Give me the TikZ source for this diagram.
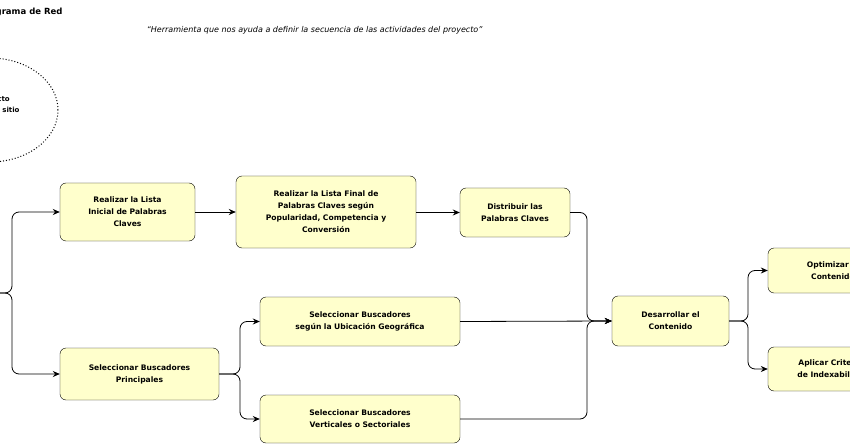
\documentclass[tikz,border=0pt]{standalone}
\usepackage{fontspec}
\setmainfont{DejaVu Sans}
\usetikzlibrary{arrows.meta,shapes.geometric}
\begin{document}
\begin{tikzpicture}[x=1pt,y=-1pt,
  box/.style={draw,fill={rgb,255:red,255;green,255;blue,204},rounded corners=6pt,align=center,font=\fontsize{7.6}{12}\selectfont\bfseries,inner sep=0pt},
  con/.style={-{Stealth[length=7pt,width=6pt]},rounded corners=7pt,line width=0.8pt}]
\useasboundingbox (0,0) rectangle (850,446);
\clip (0,0) rectangle (850,446);
\node[anchor=east,font=\fontsize{8.5}{11}\selectfont\bfseries] (t) at (66,12) {Diagrama de Red};
\node[anchor=east,font=\fontsize{8}{11}\selectfont\itshape] (st) at (486,30) {``Herramienta que nos ayuda a definir la secuencia de las actividades del proyecto''};
\node[draw,dotted,line width=1pt,ellipse,minimum width=136pt,minimum height=104pt,align=center,font=\fontsize{7}{11}\selectfont\bfseries] (p) at (-10,110) {``Proyecto\\SEO es un sitio\\web''};
\node[box,minimum width=135pt,minimum height=58pt,text width=125pt] (a) at (127.5,212) {Realizar la Lista\\Inicial de Palabras\\Claves};
\node[box,minimum width=180pt,minimum height=72pt,text width=172pt] (b) at (326,212) {Realizar la Lista Final de\\Palabras Claves según\\Popularidad, Competencia y\\Conversión};
\node[box,minimum width=110pt,minimum height=49pt,text width=104pt] (c) at (515,212.5) {Distribuir las\\Palabras Claves};
\node[box,minimum width=159pt,minimum height=52pt,text width=150pt] (d) at (139.5,374) {Seleccionar Buscadores\\Principales};
\node[box,minimum width=200pt,minimum height=49pt,text width=190pt] (e) at (360,321.5) {Seleccionar Buscadores\\según la Ubicación Geográfica};
\node[box,minimum width=200pt,minimum height=48pt,text width=190pt] (f) at (360,419) {Seleccionar Buscadores\\Verticales o Sectoriales};
\node[box,minimum width=117pt,minimum height=50pt,text width=110pt] (g) at (670.5,321) {Desarrollar el\\Contenido};
\node[box,minimum width=130pt,minimum height=45pt,text width=120pt] (h) at (833,270.5) {Optimizar el\\Contenido};
\node[box,minimum width=130pt,minimum height=44pt,text width=120pt] (i) at (833,369) {Aplicar Criterios\\de Indexabilidad};
\coordinate (s) at (-5,293);
\draw[con] (s) -- (12,293) |- (a.west);
\draw[con] (s) -- (12,293) |- (d.west);
\draw[con] (a) -- (b);
\draw[con] (b.east|-c) -- (c);
\draw[con] (c.east) -- (587,212.5) |- (g.west);
\draw[con] (e.east) -- (g.west);
\draw[con] (f.east) -- (587,419) |- (g.west);
\draw[con] (d.east) -- (240,374) |- (e.west);
\draw[con] (d.east) -- (240,374) |- (f.west);
\draw[con] (g.east) -- (748,321) |- (h.west);
\draw[con] (g.east) -- (748,321) |- (i.west);
\end{tikzpicture}
\end{document}
